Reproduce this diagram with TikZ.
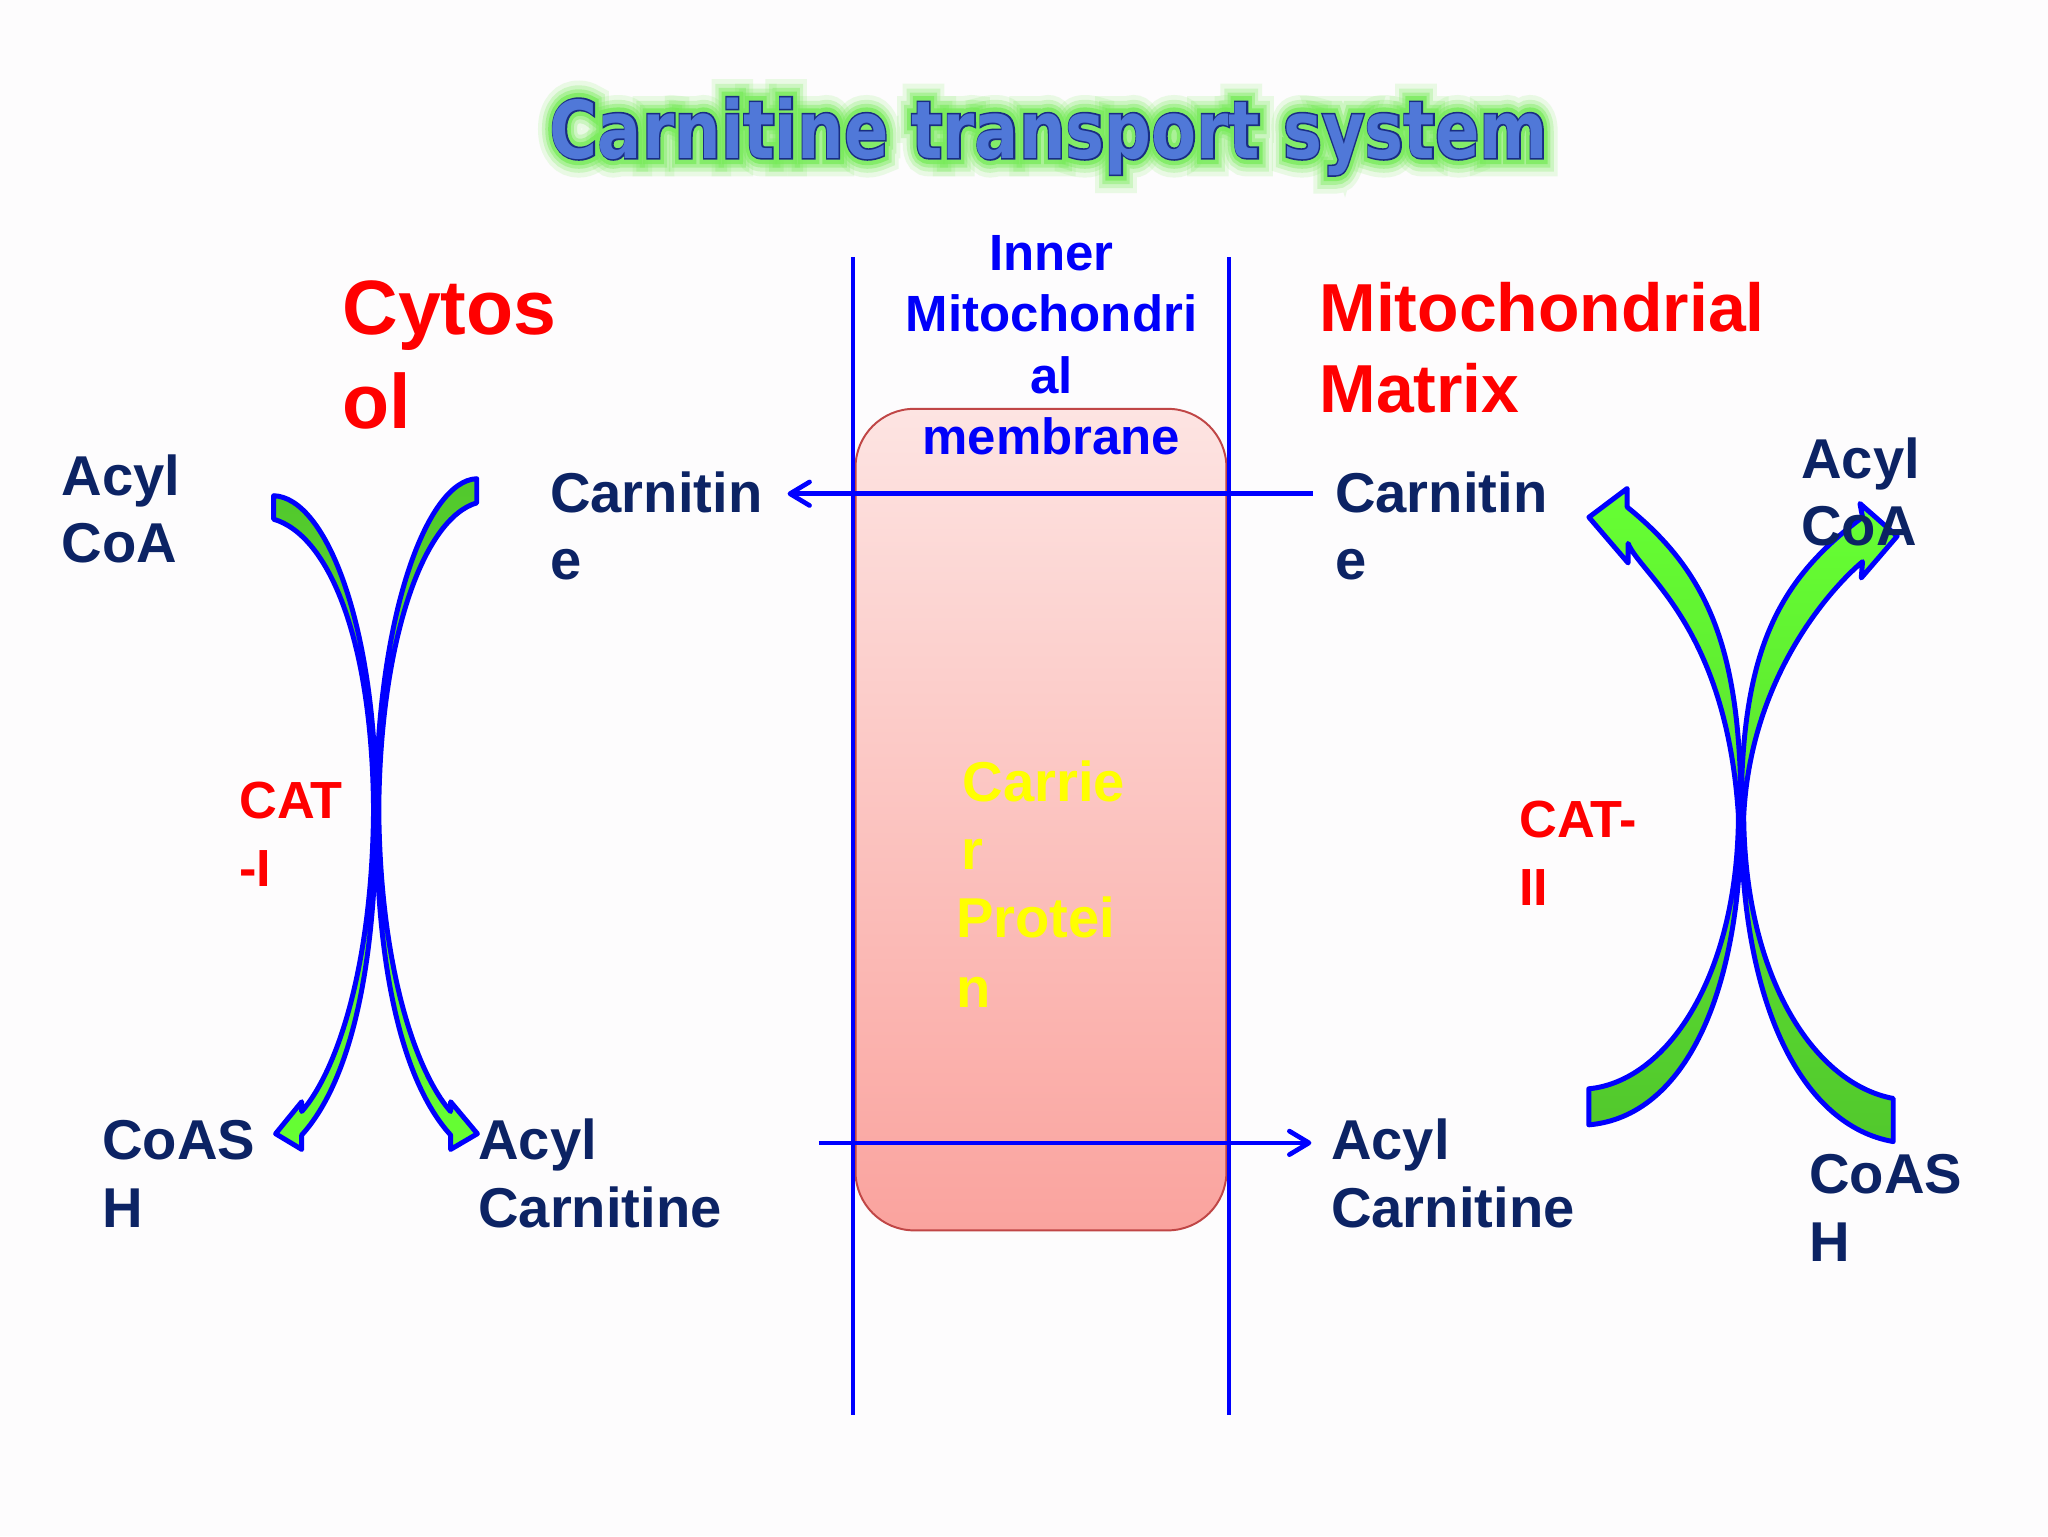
\documentclass[tikz,border=0pt]{standalone}
\usepackage{fontspec}
\setmainfont{Liberation Sans}
\newfontfamily\titlefont{DejaVu Sans}
\newfontfamily\glowfontA{DejaVu Sans}[BoldFeatures={FakeBold=46}]
\newfontfamily\glowfontB{DejaVu Sans}[BoldFeatures={FakeBold=34}]
\newfontfamily\glowfontC{DejaVu Sans}[BoldFeatures={FakeBold=24}]
\newfontfamily\glowfontD{DejaVu Sans}[BoldFeatures={FakeBold=15}]
\newfontfamily\edgefont{DejaVu Sans}[BoldFeatures={FakeBold=4}]
\usetikzlibrary{arrows.meta}
\definecolor{navy}{RGB}{12,35,100}
\definecolor{redlbl}{RGB}{255,0,0}
\definecolor{memblue}{RGB}{0,0,250}
\definecolor{yellowlbl}{RGB}{255,255,0}
\definecolor{lime}{RGB}{102,255,51}
\definecolor{darkgreen}{RGB}{82,200,45}
\definecolor{pinktop}{RGB}{253,228,226}
\definecolor{pinkbot}{RGB}{250,163,158}
\definecolor{rectborder}{RGB}{192,70,70}
\definecolor{glow}{RGB}{120,235,90}
\definecolor{titleblue}{RGB}{80,120,216}
\definecolor{titleedge}{RGB}{25,45,130}
\definecolor{bg}{RGB}{253,252,253}
\newcommand{\titletxt}[1]{\resizebox{764pt}{\height}{\fontsize{61}{70}\selectfont#1\bfseries Carnitine transport system}}
\tikzset{
  lbl/.style={anchor=base west, inner sep=0pt, font=\fontsize{43}{52}\selectfont\bfseries, text=navy},
  redbig/.style={anchor=base west, inner sep=0pt, font=\fontsize{59}{72}\selectfont\bfseries, text=redlbl},
  redmid/.style={anchor=base west, inner sep=0pt, font=\fontsize{52}{62}\selectfont\bfseries, text=redlbl},
  catlbl/.style={anchor=base west, inner sep=0pt, font=\fontsize{40}{52}\selectfont\bfseries, text=redlbl},
  memlbl/.style={anchor=base, inner sep=0pt, font=\fontsize{39}{47}\selectfont\bfseries, text=memblue},
  carlbl/.style={anchor=base west, inner sep=0pt, font=\fontsize{43}{52}\selectfont\bfseries, text=yellowlbl},
  titlenode/.style={anchor=base, inner sep=0pt},
  memline/.style={draw=blue, line width=3.6pt},
  conn/.style={draw=blue, line width=3.6pt, -{Straight Barb[length=15pt,width=18pt,line cap=round,line join=round]}},
  band/.style={draw=blue, line width=3.8pt, line join=round},
  carrierbox/.style={draw=rectborder, line width=1.5pt, rounded corners=45pt, top color=pinktop, bottom color=pinkbot, minimum width=284pt, minimum height=629pt, inner sep=0pt}
}
\begin{document}
\begin{tikzpicture}[x=1pt,y=-1pt]
\useasboundingbox (0,0) rectangle (1568,1176);
\fill[bg] (0,0) rectangle (1568,1176);

% carrier protein box
\node[carrierbox] (carrier) at (797,627.5) {};

% membrane lines
\coordinate (mlt) at (653,197);
\coordinate (mlb) at (653,1083);
\coordinate (mrt) at (941,197);
\coordinate (mrb) at (941,1083);
\draw[memline] (mlt) -- (mlb);
\draw[memline] (mrt) -- (mrb);

% horizontal transport arrows
\coordinate (carnStart) at (1005,378);
\coordinate (carnEnd) at (603,378);
\coordinate (acStart) at (627,875);
\coordinate (acEnd) at (1004,875);
\draw[conn] (carnStart) -- (carnEnd);
\draw[conn] (acStart) -- (acEnd);

% CAT-I curved arrows
\draw[band, top color=darkgreen, bottom color=lime]
 (209.5,379.5) .. controls (250,381) and (288,480) .. (288,620)
 .. controls (288,760) and (262,835) .. (231,869) -- (231,880) -- (211,868) -- (231,843.5) -- (231,851)
 .. controls (258,820) and (285,740) .. (286,620)
 .. controls (285,490) and (252,410) .. (209.5,397.5) -- cycle;
\draw[band, top color=darkgreen, bottom color=lime]
 (365,366.5) .. controls (326,368) and (288,475) .. (288,620)
 .. controls (288,760) and (314,835) .. (345,869) -- (345,880) -- (365.5,868) -- (345,843.5) -- (345,851)
 .. controls (318,820) and (291,740) .. (290,620)
 .. controls (291,490) and (324,397) .. (365,385) -- cycle;

% CAT-II curved arrows
\draw[band, top color=lime, bottom color=darkgreen]
 (1333,625) .. controls (1333,500) and (1310,440) .. (1245.8,388.2) -- (1245.8,374) -- (1216.5,396) -- (1246.5,431) -- (1246.5,416)
 .. controls (1256,440) and (1322,480) .. (1331,625)
 .. controls (1330,750) and (1275,828) .. (1216.4,833.6) -- (1216.4,861.2)
 .. controls (1290,855) and (1333,760) .. (1333,625) -- cycle;
\draw[band, top color=lime, bottom color=darkgreen]
 (1333,625) .. controls (1333,500) and (1360,445) .. (1426,396) -- (1424,385.5) -- (1452.5,410.5) -- (1425,442.5) -- (1426,430)
 .. controls (1400,452) and (1340,520) .. (1335,625)
 .. controls (1336,750) and (1390,830) .. (1449.5,841) -- (1449.5,874)
 .. controls (1380,862) and (1333,770) .. (1333,625) -- cycle;

% region labels
\node[redbig] (cytA) at (262,256) {Cytos};
\node[redbig] (cytB) at (262,328) {ol};
\node[redmid] (matA) at (1010,254) {Mitochondrial};
\node[redmid] (matB) at (1010,316) {Matrix};
\node[memlbl] (memA) at (805,207) {Inner};
\node[memlbl] (memB) at (805,254) {Mitochondri};
\node[memlbl] (memC) at (805,301) {al};
\node[memlbl] (memD) at (805,348) {membrane};

% metabolite labels
\node[lbl] (acoaLA) at (47,379) {Acyl};
\node[lbl] (acoaLB) at (47,431) {CoA};
\node[lbl] (carnLA) at (421,392) {Carnitin};
\node[lbl] (carnLB) at (421,444) {e};
\node[lbl] (carnRA) at (1022,392) {Carnitin};
\node[lbl] (carnRB) at (1022,444) {e};
\node[lbl] (acoaRA) at (1379,366) {Acyl};
\node[lbl] (acoaRB) at (1379,418) {CoA};
\node[lbl] (coashLA) at (78,888) {CoAS};
\node[lbl] (coashLB) at (78,940) {H};
\node[lbl] (acarLA) at (366,888) {Acyl};
\node[lbl] (acarLB) at (366,940) {Carnitine};
\node[lbl] (acarRA) at (1019,888) {Acyl};
\node[lbl] (acarRB) at (1019,940) {Carnitine};
\node[lbl] (coashRA) at (1385,914) {CoAS};
\node[lbl] (coashRB) at (1385,966) {H};

% enzymes
\node[catlbl] (catIA) at (183,627) {CAT};
\node[catlbl] (catIB) at (183,679) {-I};
\node[catlbl] (catIIA) at (1163,641) {CAT-};
\node[catlbl] (catIIB) at (1163,693) {II};

% carrier protein text
\node[carlbl] (carrA) at (737,614) {Carrie};
\node[carlbl] (carrB) at (736,666) {r};
\node[carlbl] (carrC) at (732,718) {Protei};
\node[carlbl] (carrD) at (732,771) {n};

% title with soft glow
\node[titlenode, text=glow, text opacity=0.15] (glowA) at (803,121) {\titletxt{\glowfontA}};
\node[titlenode, text=glow, text opacity=0.25] (glowB) at (803,121) {\titletxt{\glowfontB}};
\node[titlenode, text=glow, text opacity=0.4] (glowC) at (803,121) {\titletxt{\glowfontC}};
\node[titlenode, text=glow, text opacity=0.75] (glowD) at (803,121) {\titletxt{\glowfontD}};
\node[titlenode, text=titleedge] (titleEdge) at (803,121) {\titletxt{\edgefont}};
\node[titlenode, text=titleblue] (title) at (803,121) {\titletxt{\titlefont}};
\end{tikzpicture}
\end{document}
